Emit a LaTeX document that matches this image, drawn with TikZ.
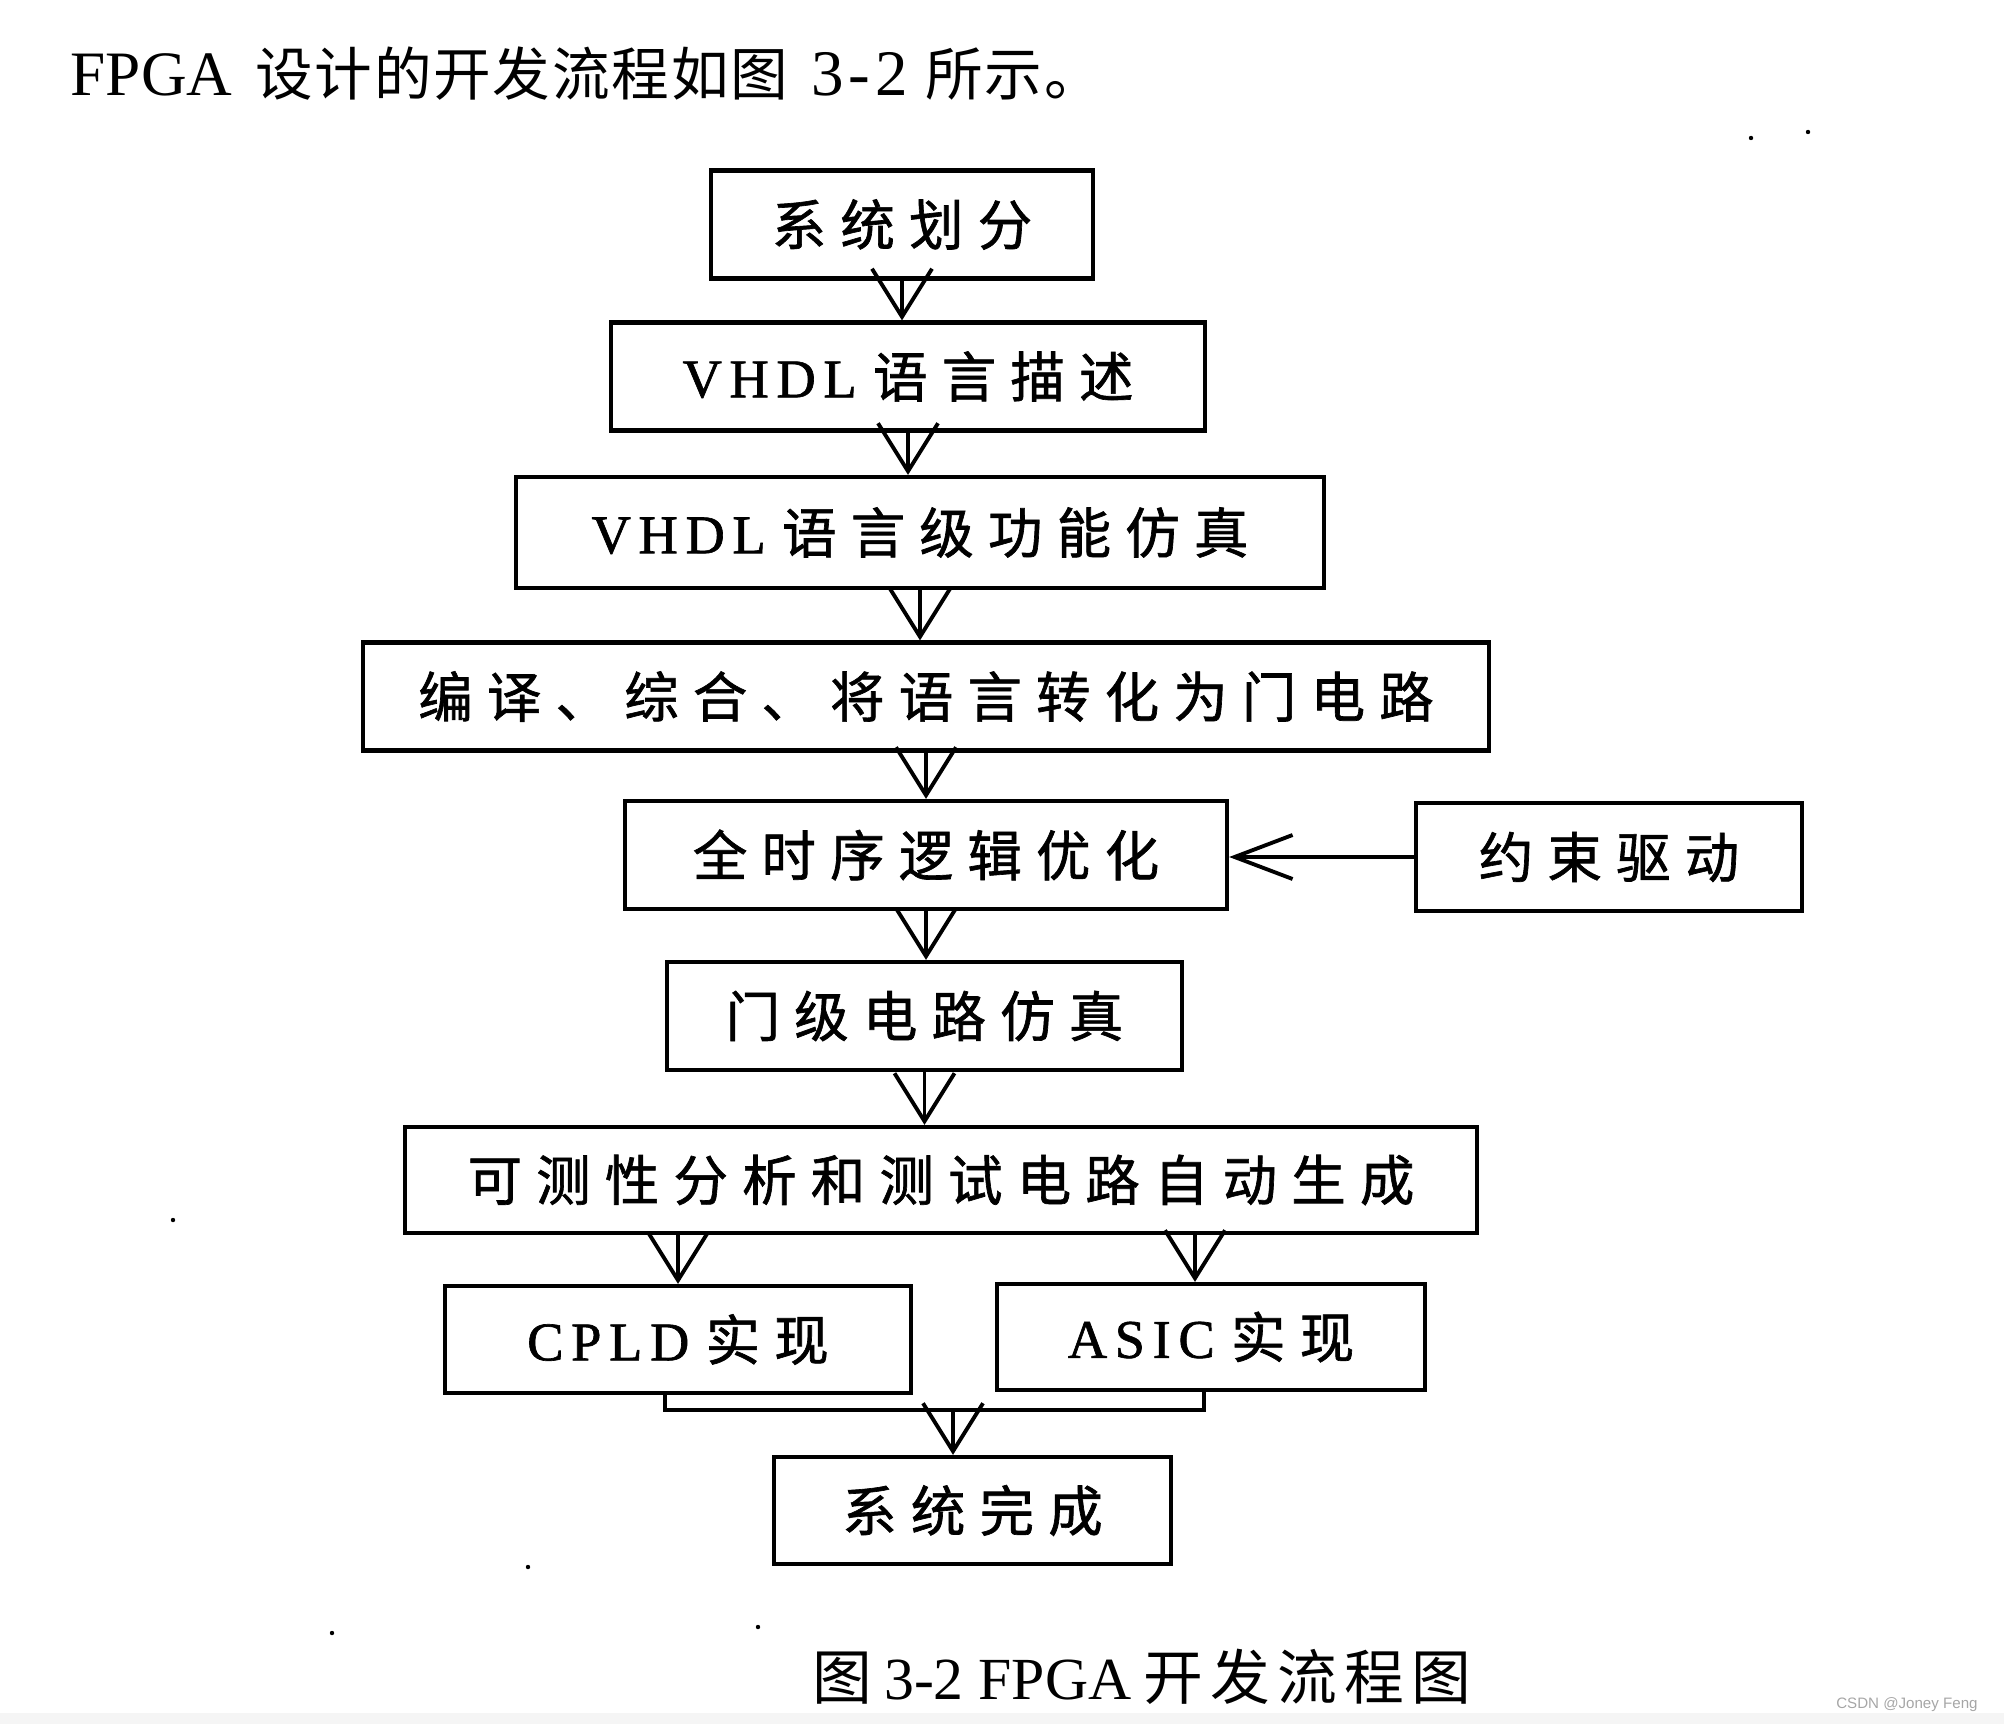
\documentclass[tikz,border=0pt]{standalone}
\usepackage{fontspec}
\setmainfont{Liberation Serif}
\newfontfamily\cjk[LetterSpace=26, FakeBold=1.2]{Noto Sans CJK SC}
\newfontfamily\cjkt[LetterSpace=12]{Noto Sans CJK SC}
\newfontfamily\cjkn[LetterSpace=3]{Noto Sans CJK SC}
\newfontfamily\lat[LetterSpace=14, FakeBold=1.2]{Liberation Serif}
\newfontfamily\latw[LetterSpace=8]{Liberation Serif}
\newfontfamily\wmfont{Liberation Sans}
\usetikzlibrary{calc, arrows.meta, positioning}

\begin{document}
\begin{tikzpicture}[
    >={Straight Barb[length=0.48cm, width=0.6cm, line width=1.1pt]},
    box/.style={draw, line width=1.2pt, inner sep=0pt, minimum height=1.08cm,
        font=\fontsize{15.5pt}{18pt}\selectfont},
    flow/.style={->, line width=1pt}]
    \useasboundingbox (0,0) rectangle (20.04,-17.24);

    % Tiêu đề
    \node[anchor=west, inner sep=0pt, font=\fontsize{16.4pt}{20pt}\selectfont] (title) at (0.70,-0.74)
        {{\fontsize{18pt}{20pt}\selectfont FPGA}\hspace{0.4em}{\cjkn 设计的开发流程如图}\hspace{0.4em}{\fontsize{18.5pt}{20pt}\latw 3-2}\hspace{0.3em}{\cjkn 所示。}};

    % Các khối
    \node[box, minimum width=3.82cm] (b1) at (9.02,-2.245) {\cjk 系统划分};
    \node[box, minimum width=5.94cm] (b2) at (9.08,-3.765) {{\lat VHDL}\hspace{0.3em}{\cjk 语言描述}};
    \node[box, minimum width=8.08cm, minimum height=1.11cm] (b3) at (9.20,-5.325) {{\lat VHDL}\hspace{0.3em}{\cjk 语言级功能仿真}};
    \node[box, minimum width=11.26cm] (b4) at (9.26,-6.965) {\cjk 编译、综合、将语言转化为门电路};
    \node[box, minimum width=6.02cm] (b5) at (9.26,-8.55) {\cjk 全时序逻辑优化};
    \node[box, minimum width=3.86cm] (b5r) at (16.09,-8.57) {\cjk 约束驱动};
    \node[box, minimum width=5.15cm] (b6) at (9.245,-10.16) {\cjk 门级电路仿真};
    \node[box, minimum width=10.72cm, minimum height=1.06cm] (b7) at (9.41,-11.80) {\cjk 可测性分析和测试电路自动生成};
    \node[box, minimum width=4.66cm, minimum height=1.07cm] (b8) at (6.78,-13.395) {{\lat CPLD}\hspace{0.3em}{\cjk 实现}};
    \node[box, minimum width=4.28cm, minimum height=1.06cm] (b9) at (12.11,-13.37) {{\lat ASIC}\hspace{0.3em}{\cjk 实现}};
    \node[box, minimum width=3.97cm, minimum height=1.07cm] (b10) at (9.725,-15.105) {\cjk 系统完成};

    % Mũi tên
    \draw[flow] (b1.south) -- (b1.south |- b2.north);
    \draw[flow] (b2.south) -- (b2.south |- b3.north);
    \draw[flow] (b3.south) -- (b3.south |- b4.north);
    \draw[flow] (b4.south) -- (b4.south |- b5.north);
    \draw[flow] (b5.south) -- (b5.south |- b6.north);
    \draw[flow] (b6.south) -- (b6.south |- b7.north);
    \draw[flow] (b8.north |- b7.south) -- (b8.north);
    \draw[flow] ([xshift=-0.16cm]b9.north |- b7.south) -- ([xshift=-0.16cm]b9.north);
    \draw[->, line width=1pt, >={Straight Barb[length=0.58cm, width=0.44cm, line width=1.1pt]}]
        (b5r.west) -- (b5r.west -| b5.east);

    % Hợp nhánh
    \coordinate (mL) at (6.65,-14.10);
    \coordinate (mR) at (12.04,-14.10);
    \coordinate (mM) at (9.53,-14.10);
    \draw[line width=1.2pt] (mL |- b8.south) -- (mL) -- (mR) -- (mR |- b9.south);
    \draw[flow] (mM) -- (mM |- b10.north);

    % Chú thích
    \node[anchor=west, font=\fontsize{17pt}{20pt}\selectfont] (caption) at (8.0,-16.77)
        {{\cjkt 图}\hspace{0.2em}3-2 FPGA\hspace{0.2em}{\cjkt 开发流程图}};

    % Chấm nhỏ
    \foreach \p in {(17.51,-1.38),(18.08,-1.32),(1.73,-12.20),(5.28,-15.67),(7.58,-16.27),(3.32,-16.33)}
        \fill \p circle (0.022);

    % Dải dưới
    \fill[gray!8] (0,-17.13) rectangle (20.04,-17.24);
    \node[anchor=east, font=\wmfont\fontsize{4.3pt}{5pt}\selectfont, text=gray!70] (mark) at (19.9,-17.05) {CSDN @Joney Feng};
\end{tikzpicture}
\end{document}
